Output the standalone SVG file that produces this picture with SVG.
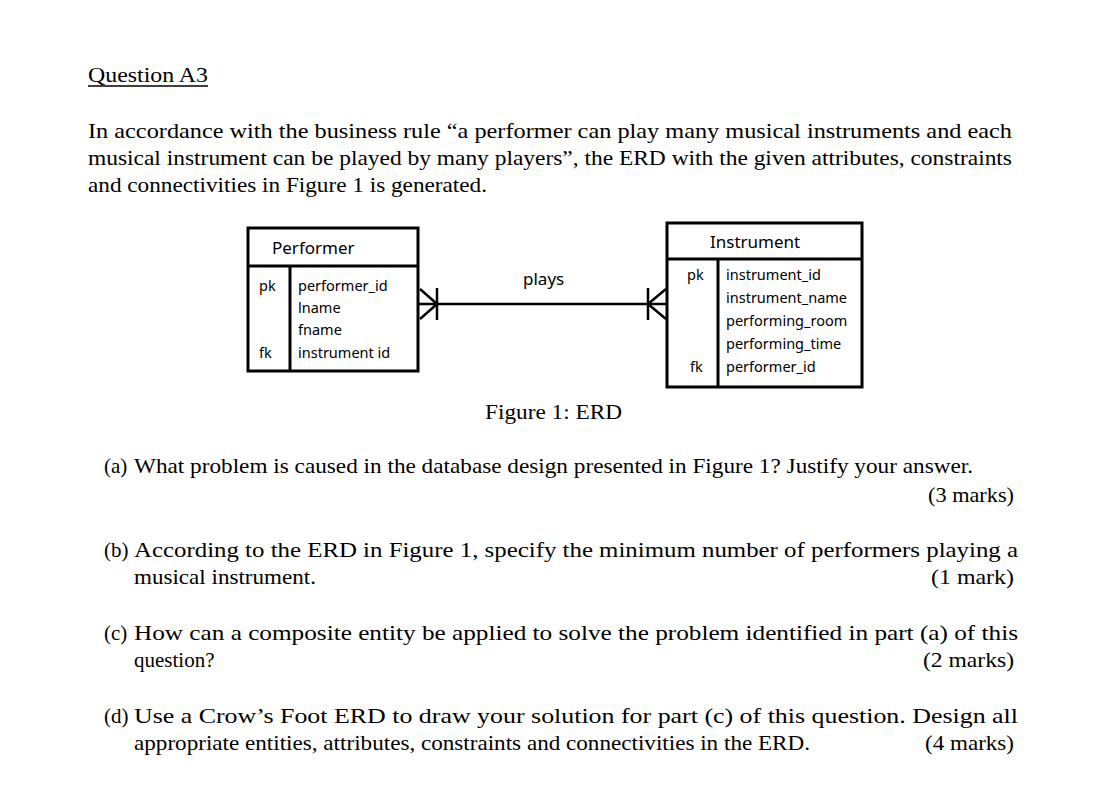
<svg xmlns="http://www.w3.org/2000/svg" width="1097" height="801" viewBox="0 0 1097 801">
<style>
.t{font-family:"Liberation Serif",serif;font-size:21px;fill:#000}
.s{font-family:"Noto Sans","DejaVu Sans",sans-serif;font-size:14.5px;fill:#000}
.h{font-family:"Noto Sans","DejaVu Sans",sans-serif;font-size:17px;fill:#000}
.b{fill:none;stroke:#000;stroke-width:3}
.c{fill:none;stroke:#000;stroke-width:2.5}
</style>
<rect width="1097" height="801" fill="#fff"/>
<text class="t" x="88" y="82" textLength="120" lengthAdjust="spacingAndGlyphs">Question A3</text>
<line x1="88" y1="86" x2="208" y2="86" stroke="#000" stroke-width="1.3"/>
<text class="t" x="88" y="138" textLength="924" lengthAdjust="spacingAndGlyphs">In accordance with the business rule “a performer can play many musical instruments and each</text>
<text class="t" x="88" y="165" textLength="924" lengthAdjust="spacingAndGlyphs">musical instrument can be played by many players”, the ERD with the given attributes, constraints</text>
<text class="t" x="88" y="192" textLength="399" lengthAdjust="spacingAndGlyphs">and connectivities in Figure 1 is generated.</text>
<g id="performer">
<rect class="b" x="248" y="228" width="170" height="143"/>
<line class="b" x1="248" y1="266" x2="418" y2="266"/>
<line class="b" x1="290" y1="266" x2="290" y2="371"/>
<text class="h" x="272" y="254">Performer</text>
<text class="s" x="259" y="291">pk</text>
<text class="s" x="298" y="291">performer_id</text>
<text class="s" x="298" y="313">lname</text>
<text class="s" x="298" y="335">fname</text>
<text class="s" x="259" y="358">fk</text>
<text class="s" x="298" y="358">instrument id</text>
</g>
<g id="instrument">
<rect class="b" x="667" y="223" width="195" height="164"/>
<line class="b" x1="667" y1="259" x2="862" y2="259"/>
<line class="b" x1="718" y1="259" x2="718" y2="387"/>
<text class="h" x="710" y="248">Instrument</text>
<text class="s" x="687" y="280">pk</text>
<text class="s" x="726" y="280">instrument_id</text>
<text class="s" x="726" y="303">instrument_name</text>
<text class="s" x="726" y="326">performing_room</text>
<text class="s" x="726" y="349">performing_time</text>
<text class="s" x="690" y="372">fk</text>
<text class="s" x="726" y="372">performer_id</text>
</g>
<g id="connectors">
<line class="c" x1="418" y1="304" x2="667" y2="304"/>
<line class="c" x1="437" y1="288" x2="437" y2="320"/>
<line class="c" x1="420" y1="289" x2="437" y2="304"/>
<line class="c" x1="420" y1="319" x2="437" y2="304"/>
<line class="c" x1="648" y1="288" x2="648" y2="320"/>
<line class="c" x1="666" y1="289" x2="648" y2="304"/>
<line class="c" x1="666" y1="319" x2="648" y2="304"/>
<text class="h" x="523" y="285">plays</text>
</g>
<text class="t" x="485" y="419" textLength="137" lengthAdjust="spacingAndGlyphs">Figure 1: ERD</text>
<text class="t" x="104" y="473">(a)</text>
<text class="t" x="134" y="473" textLength="839" lengthAdjust="spacingAndGlyphs">What problem is caused in the database design presented in Figure 1? Justify your answer.</text>
<text class="t" x="928" y="502" textLength="86" lengthAdjust="spacingAndGlyphs">(3 marks)</text>
<text class="t" x="104" y="557">(b)</text>
<text class="t" x="134" y="557" textLength="884" lengthAdjust="spacingAndGlyphs">According to the ERD in Figure 1, specify the minimum number of performers playing a</text>
<text class="t" x="134" y="584" textLength="182" lengthAdjust="spacingAndGlyphs">musical instrument.</text>
<text class="t" x="931" y="584" textLength="83" lengthAdjust="spacingAndGlyphs">(1 mark)</text>
<text class="t" x="104" y="640">(c)</text>
<text class="t" x="134" y="640" textLength="884" lengthAdjust="spacingAndGlyphs">How can a composite entity be applied to solve the problem identified in part (a) of this</text>
<text class="t" x="134" y="667">question?</text>
<text class="t" x="923" y="667" textLength="91" lengthAdjust="spacingAndGlyphs">(2 marks)</text>
<text class="t" x="104" y="723">(d)</text>
<text class="t" x="134" y="723" textLength="884" lengthAdjust="spacingAndGlyphs">Use a Crow’s Foot ERD to draw your solution for part (c) of this question. Design all</text>
<text class="t" x="134" y="750" textLength="676" lengthAdjust="spacingAndGlyphs">appropriate entities, attributes, constraints and connectivities in the ERD.</text>
<text class="t" x="925" y="750" textLength="89" lengthAdjust="spacingAndGlyphs">(4 marks)</text>
</svg>
